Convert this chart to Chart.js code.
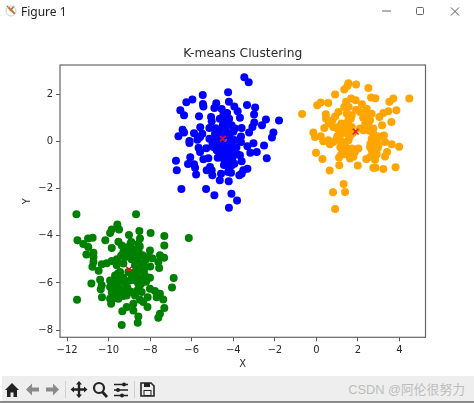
<!DOCTYPE html>
<html>
<head>
<meta charset="utf-8">
<title>Figure 1</title>
<script src="https://cdn.jsdelivr.net/npm/chart.js@4/dist/chart.umd.min.js"></script>
<style>
html, body { margin: 0; padding: 0; background: #fff; }
#wrap { position: relative; width: 474px; height: 403px; overflow: hidden; background: #fff; }
#chart { position: absolute; left: 0; top: 0; }
#bar-title { position: absolute; left: 21px; top: 3px; font: 12px "Noto Sans", sans-serif; color: #222; }
#toolbar { position: absolute; left: 2px; right: 0; top: 376px; height: 25px; background: #eeeeee; }
#bottom-line { position: absolute; left: 0; right: 0; top: 401px; height: 2px; background: #8c8c8c; }
#mark { position: absolute; right: 9px; top: 382px; font: 12.8px "Liberation Sans", "Noto Sans CJK SC", sans-serif; line-height: 16px; color: #bdbdbd; white-space: nowrap; }
svg { position: absolute; left: 0; top: 0; }
</style>
</head>
<body>
<div id="wrap">
  <canvas id="chart" width="474" height="403"></canvas>
  <div id="bar-title">Figure 1</div>
  <div id="toolbar"></div>
  <div id="bottom-line"></div>
  <svg width="474" height="403" xmlns="http://www.w3.org/2000/svg">
    <!-- title bar -->
    <path d="M7 6 L15 14 M10 11 L14 6" stroke="#c0763a" stroke-width="2" fill="none"/>
    <circle cx="11" cy="11" r="5" fill="none" stroke="#ccc" stroke-width="1"/>
    <path d="M382 11 H391" stroke="#666" stroke-width="1"/>
    <rect x="416.5" y="7.5" width="7" height="7" rx="1" fill="none" stroke="#666"/>
    <path d="M451 7.5 L459 15.5 M459 7.5 L451 15.5" stroke="#555" stroke-width="1"/>
    <!-- toolbar icons -->
    <path d="M5 390 L12 383 L19 390 H17 V397 H13.5 V392.5 H10.5 V397 H7 V390 Z" fill="#222"/>
    <path d="M26 389.5 L32 383.5 V387.5 H39 V391.5 H32 V395.5 Z" fill="#8a8a8a"/>
    <path d="M59 389.5 L53 383.5 V387.5 H46 V391.5 H53 V395.5 Z" fill="#8a8a8a"/>
    <path d="M65.5 381 V398" stroke="#d0d0d0"/>
    <path d="M79 381 L82 384.5 H80.2 V388.3 H84 V386.5 L87.5 389.5 L84 392.5 V390.7 H80.2 V394.5 H82 L79 398 L76 394.5 H77.8 V390.7 H74 V392.5 L70.5 389.5 L74 386.5 V388.3 H77.8 V384.5 H76 Z" fill="#222"/>
    <circle cx="99" cy="388" r="5" fill="none" stroke="#222" stroke-width="2.2"/>
    <path d="M102.5 392 L107 397" stroke="#222" stroke-width="2.8"/>
    <path d="M114 384.5 H128 M114 390 H128 M114 395.5 H128" stroke="#222" stroke-width="1.3"/>
    <circle cx="124" cy="384.5" r="2" fill="#222"/>
    <circle cx="118" cy="390" r="2" fill="#222"/>
    <circle cx="122" cy="395.5" r="2" fill="#222"/>
    <path d="M134.5 381 V398" stroke="#d0d0d0"/>
    <path d="M141 383 H151 L154 386 V396 H141 Z" fill="none" stroke="#222" stroke-width="1.6"/>
    <rect x="144" y="383" width="6" height="4" fill="#222"/>
    <rect x="144" y="390.5" width="7" height="5" fill="none" stroke="#222"/>
  </svg>
  <div id="mark">CSDN @阿伦很努力</div>
</div>
<script>
// ticks
const xTicks = [-12, -10, -8, -6, -4, -2, 0, 2, 4];
const yTicks = [-8, -6, -4, -2, 0, 2];

// cluster 1 (blue)
const blueX = [-3.47,-3.26,-4.25,-5.47,-5.97,-6.26,-4.21,-5.46,-5.44,-4.82,-4.91,-4.56,-3.34,-2.95,-3.95,-3.79,-3.00,-6.55,-6.37,-5.65,-5.07,-5.04,-4.48,-4.38,-3.68,-1.80,-2.43,-2.62,-2.99,-3.08,-3.24,-5.59,-5.15,-6.44,-6.37,-6.64,-5.89,-5.49,-5.60,-5.73,-6.11,-6.11,-3.60,-3.92,-4.24,-4.08,-2.07,-2.14,-3.63,-2.52,-3.03,-3.32,-3.18,-2.87,-2.39,-3.63,-5.15,-4.88,-4.64,-4.40,-5.67,-5.60,-5.20,-5.44,-6.07,-6.18,-6.76,-6.72,-5.89,-5.84,-5.79,-5.12,-5.28,-5.04,-5.01,-4.59,-4.65,-4.22,-4.11,-4.32,-4.08,-3.60,-3.68,-3.32,-3.52,-3.60,-3.71,-6.50,-5.31,-4.91,-4.09,-3.82,-4.21,-4.48,-4.24,-4.00,-4.96,-4.80,-4.40,-4.16,-4.48,-4.24,-3.92,-4.56,-4.30,-4.10,-4.60,-4.35,-4.05,-4.70,-4.50,-4.30,
    -4.90,-5.00,-4.75,-4.65,-4.35,-4.20,-3.95,-3.85,-3.80,-3.95,-4.20,-4.45,-4.60,-4.75,-4.20,-4.00,-4.40,-4.15,-4.85,-4.40,-4.65,-4.20,-4.00,-5.30,-4.25];
const blueY = [2.71,2.50,2.08,1.96,1.77,1.65,1.67,1.58,1.47,1.61,1.41,1.37,1.54,1.43,1.47,1.27,1.13,1.31,1.10,1.06,1.03,0.85,1.10,0.92,1.00,0.88,0.92,0.68,0.79,0.61,0.37,0.59,0.56,0.49,0.37,0.21,0.34,0.32,0.18,0.07,0.01,-0.07,0.56,0.54,0.75,0.68,0.37,0.16,0.20,-0.18,-0.08,-0.21,-0.49,-0.45,-0.72,-0.03,0.11,0.32,0.47,0.25,-0.27,-0.45,-0.72,-0.76,-0.68,-0.96,-0.82,-1.23,-0.97,-1.12,-1.41,-1.09,-1.23,-1.23,-1.44,-1.38,-1.65,-1.69,-1.33,-1.02,-1.02,-0.85,-0.59,-1.16,-1.23,-1.37,-1.44,-2.02,-2.02,-2.29,-2.22,-2.51,-2.81,-0.17,-0.17,-0.31,-0.24,-0.38,-0.52,-0.59,-0.73,-0.80,-0.52,0.04,-0.35,-0.10,-0.30,-0.65,-0.75,0.20,0.70,1.20,
    0.10,-0.10,-0.10,0.35,0.45,0.25,0.05,-0.25,-0.55,-0.95,-1.10,-1.00,-0.55,-0.70,-0.40,-0.60,-0.20,0.00,0.55,1.05,0.95,0.95,0.40,-0.30,-1.30];

// cluster 2 (orange)
const orangeX = [1.54,1.49,1.34,1.91,2.50,0.90,2.63,2.84,4.47,3.70,3.51,0.57,0.21,0.04,1.67,1.43,1.89,1.34,2.19,-0.69,3.85,3.46,3.22,3.03,1.06,0.45,0.46,0.77,1.91,2.10,2.42,2.66,3.61,3.16,0.38,-0.15,-0.07,0.21,0.33,0.57,0.81,0.65,-0.02,0.29,0.64,1.10,1.09,1.30,1.38,1.70,2.02,1.62,1.78,2.40,1.99,2.82,3.30,3.40,2.74,2.84,3.22,3.81,3.98,3.62,3.30,3.25,2.58,2.82,2.98,2.66,2.90,2.74,2.50,2.58,1.46,1.54,1.30,1.06,0.81,1.22,1.46,1.70,2.26,2.42,2.10,1.31,0.80,1.38,0.90,1.30,1.54,1.10,1.00,1.60,1.20,1.50,1.30,2.70,2.90,2.60,2.75,1.65,1.45,2.40,
    1.20,1.00,0.95,1.15,1.40,1.55,1.10,1.75,1.40,1.55,1.20,1.85,2.55,2.35,2.65,2.95,2.60,2.80,3.00,1.55,1.70,2.25,0.60,2.45,0.90];
const orangeY = [2.46,2.34,2.19,2.40,2.26,1.98,1.85,1.82,1.81,1.81,1.67,1.62,1.64,1.53,1.81,1.67,1.74,1.45,1.57,1.16,1.31,1.27,1.20,1.03,1.24,1.14,0.96,0.89,1.34,1.24,1.38,1.17,0.82,0.68,0.56,0.37,0.18,0.21,0.00,0.04,-0.03,-0.13,-0.49,-0.75,-1.24,-1.02,-0.69,-0.38,-0.17,-0.31,-0.31,-0.73,-0.66,-0.75,-1.03,-0.78,-0.64,-0.45,-1.12,-1.12,-1.17,-1.10,-0.23,-0.13,-0.03,0.25,-0.24,-0.38,-0.17,0.11,0.04,0.54,0.68,0.89,1.17,0.89,0.68,0.61,0.61,0.32,0.47,0.61,0.47,0.54,0.54,-1.81,-2.16,-2.15,-2.87,0.40,0.04,0.40,0.20,0.20,0.00,-0.50,-0.55,-0.50,-0.55,-0.10,0.30,0.95,0.75,0.90,
    0.75,0.55,0.05,-0.25,0.55,0.30,0.25,0.35,-0.35,-0.60,-0.55,-0.45,0.45,0.75,-0.35,-0.30,-0.65,-0.10,0.20,1.45,1.10,1.00,0.75,1.10,1.05];

// cluster 3 (green)
const greenX = [-11.55,-8.68,-6.14,-9.58,-9.85,-9.93,-9.50,-9.02,-8.52,-7.98,-7.32,-7.32,-11.50,-10.99,-10.77,-10.16,-11.22,-10.98,-11.07,-10.73,-9.85,-9.53,-9.37,-8.91,-8.49,-8.57,-8.89,-9.29,-9.21,-8.81,-8.36,-8.01,-8.09,-7.53,-7.33,-7.61,-7.57,-10.73,-10.73,-10.78,-10.48,-10.33,-10.09,-9.85,-9.61,-9.29,-8.73,-8.33,-8.49,-8.25,-8.01,-6.87,-6.95,-10.83,-10.41,-10.33,-10.38,-9.93,-9.69,-9.29,-8.97,-8.57,-9.93,-9.69,-9.29,-8.89,-8.41,-8.01,-7.77,-7.53,-10.32,-9.93,-9.88,-9.53,-9.13,-8.73,-8.49,-8.12,-7.69,-7.37,-11.52,-9.34,-9.13,-8.81,-8.81,-8.33,-8.13,-7.32,-7.53,-7.61,-8.57,-8.60,-9.37,-9.77,-9.61,-8.65,-9.05,-8.89,-9.45,-8.70,-8.40,-9.70,-9.50,-9.10,-8.60,-8.90,-8.60,
    -9.60,-9.40,-9.00,-8.75,-8.55,-8.20,-8.00,-8.60,-8.30,-8.75,-9.20,-9.45,-9.55,-9.80,-9.85,-9.55,-9.30,-9.00,-8.45,-8.20,-9.20,-8.95,-8.50,-7.90,-9.70];
const greenY = [-3.09,-3.09,-4.10,-3.52,-3.74,-3.88,-3.74,-3.97,-3.80,-3.88,-4.01,-4.41,-4.19,-4.12,-4.08,-4.19,-4.35,-4.48,-4.79,-4.72,-4.52,-4.25,-4.41,-4.27,-4.12,-4.34,-4.55,-4.69,-4.90,-4.83,-4.83,-4.62,-4.90,-4.83,-4.93,-5.11,-5.37,-4.90,-5.11,-5.31,-5.48,-5.21,-5.16,-5.07,-5.25,-5.18,-5.25,-5.18,-5.47,-5.68,-5.78,-5.79,-6.19,-6.02,-5.86,-6.10,-6.27,-5.89,-5.68,-5.78,-5.89,-6.03,-6.17,-6.24,-6.31,-6.38,-6.38,-6.24,-6.34,-6.46,-6.60,-6.67,-6.88,-6.67,-6.53,-6.53,-6.71,-6.60,-6.60,-6.70,-6.71,-7.20,-7.02,-6.88,-7.16,-6.81,-7.02,-7.06,-7.30,-7.47,-7.42,-7.68,-7.78,-5.89,-6.53,-5.68,-5.54,-5.68,-5.54,-5.90,-5.80,-6.00,-6.20,-6.20,-6.30,-5.00,-5.00,
    -5.00,-4.85,-4.75,-4.60,-4.70,-5.00,-5.30,-5.30,-5.45,-5.55,-6.00,-5.90,-5.60,-6.10,-6.40,-6.45,-6.55,-6.35,-6.05,-5.95,-4.50,-4.35,-4.45,-4.95,-6.65];

// centers
const centerX = [-4.51, 1.89, -9.02];
const centerY = [0.11, 0.41, -5.42];

const toPoints = (xs, ys) => xs.map((x, i) => ({ x: x, y: ys[i] }));

const clusterSet = (xs, ys, color) => ({
    data: toPoints(xs, ys),
    backgroundColor: color,
    borderColor: color,
    pointRadius: 4,
    pointBorderWidth: 0,
    order: 1
});

// Chart.js only draws the axis lines it owns, matplotlib has the full box
const frame = {
    id: 'frame',
    afterDatasetsDraw(chart) {
        const a = chart.chartArea;
        const ctx = chart.ctx;
        ctx.save();
        ctx.strokeStyle = '#666666';
        ctx.lineWidth = 1.2;
        ctx.strokeRect(a.left, a.top, a.right - a.left, a.bottom - a.top);
        ctx.restore();
    }
};

const minus = v => String(v).replace('-', '\u2212');
const tickFont = { family: 'DejaVu Sans', size: 10 };
const inkColor = '#2a2a2a';

new Chart(document.getElementById('chart'), {
    type: 'scatter',
    data: {
        datasets: [
            clusterSet(blueX, blueY, '#0000ff'),
            clusterSet(orangeX, orangeY, '#ffa500'),
            clusterSet(greenX, greenY, '#008000'),
            {
                data: toPoints(centerX, centerY),
                pointStyle: 'crossRot',
                pointRadius: 4,
                pointBorderWidth: 1.5,
                borderColor: '#ee1111',
                backgroundColor: '#ee1111',
                order: 0
            }
        ]
    },
    plugins: [frame],
    options: {
        responsive: false,
        animation: false,
        layout: { padding: { top: 46.24, right: 48.5, bottom: 27, left: 0 } },
        plugins: {
            legend: { display: false },
            tooltip: { enabled: false },
            title: {
                display: true,
                fullSize: false,
                text: 'K-means Clustering',
                color: inkColor,
                font: { family: 'DejaVu Sans', size: 12.3, weight: 'normal' },
                padding: { top: 0, bottom: 4 }
            }
        },
        scales: {
            x: {
                type: 'linear',
                min: -12.34,
                max: 5.25,
                afterBuildTicks: s => { s.ticks = xTicks.map(v => ({ value: v })); },
                afterFit: s => { s.height = 38.7; },
                grid: { drawOnChartArea: false, drawTicks: true, tickLength: 4, tickColor: '#555' },
                border: { display: false },
                ticks: {
                    color: inkColor,
                    font: tickFont,
                    padding: 3,
                    maxRotation: 0,
                    autoSkip: false,
                    callback: v => minus(v)
                },
                title: {
                    display: true,
                    text: 'X',
                    color: inkColor,
                    font: { family: 'DejaVu Sans', size: 10 },
                    padding: { top: 0, bottom: 6 }
                }
            },
            y: {
                type: 'linear',
                min: -8.30,
                max: 3.23,
                afterBuildTicks: s => { s.ticks = yTicks.map(v => ({ value: v })); },
                afterFit: s => { s.width = 60; },
                grid: { drawOnChartArea: false, drawTicks: true, tickLength: 4, tickColor: '#555' },
                border: { display: false },
                ticks: {
                    color: inkColor,
                    font: tickFont,
                    padding: 3,
                    autoSkip: false,
                    callback: v => minus(v)
                },
                title: {
                    display: true,
                    text: 'Y',
                    color: inkColor,
                    font: { family: 'DejaVu Sans', size: 10 },
                    padding: { top: 21, bottom: 0 }
                }
            }
        }
    }
});
</script>
</body>
</html>
